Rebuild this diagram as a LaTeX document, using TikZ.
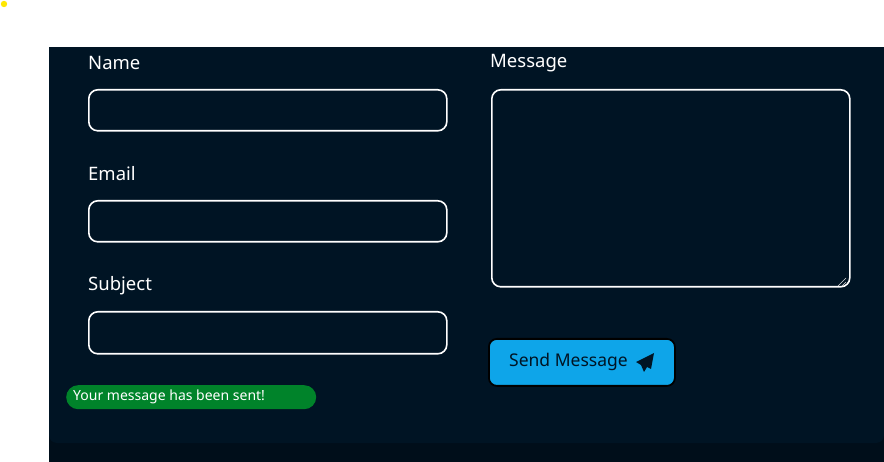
\documentclass[tikz,border=0pt]{standalone}
\usepackage{fontspec}
\setmainfont{Noto Sans}
\definecolor{card}{HTML}{001424}
\definecolor{deep}{HTML}{000E1A}
\definecolor{okgreen}{HTML}{00832A}
\definecolor{sky}{HTML}{0EA5E9}
\begin{document}
\begin{tikzpicture}[x=1pt,y=-1pt,
  field/.style={draw=white,line width=1.6pt,rounded corners=9pt,fill=card},
  lbl/.style={text=white,font=\fontsize{18.5}{20}\selectfont,anchor=west,inner sep=0pt}]
\useasboundingbox (0,0) rectangle (884,462);
\fill[white] (0,0) rectangle (884,462);
\fill[yellow!90!orange] (4,4) circle (3.2);
\fill[deep] (49,47) rectangle (884,462);
\fill[card,rounded corners=8pt] (49,30) rectangle (884,443);
\fill[white] (49,29) rectangle (884,47);
\node[lbl] (ln) at (88,63) {Name};
\node[field,minimum width=358pt,minimum height=41pt,anchor=north west] (fn) at (88,89) {};
\node[lbl] (le) at (88,174) {Email};
\node[field,minimum width=358pt,minimum height=41pt,anchor=north west] (fe) at (88,200) {};
\node[lbl] (ls) at (88,286) {Subject};
\node[field,minimum width=358pt,minimum height=42pt,anchor=north west] (fs) at (88,311) {};
\node[lbl] (lm) at (490,63) {Message};
\node[field,minimum width=358pt,minimum height=197pt,anchor=north west] (fm) at (491,89) {};
\draw[white!70!gray,line width=0.6pt] (846,278)--(838,286) (846,282)--(842,286);
\node[draw=black,line width=1.8pt,fill=sky,rounded corners=8pt,minimum width=186pt,minimum height=47pt,anchor=north west] (btn) at (488,338) {};
\node[text=card,font=\fontsize{17.5}{19}\selectfont,anchor=west,inner sep=0pt] (bt) at (509,362) {Send Message};
\fill[card] (654,353) -- (636,362) -- (641,365) -- (644,372) -- (647,367) -- (651,369) -- cycle;
\node[fill=okgreen,rounded corners=12pt,minimum width=250pt,minimum height=24pt,anchor=north west] (ok) at (66,385) {};
\node[text=white,font=\fontsize{14}{15}\selectfont,anchor=west,inner sep=0pt] (okt) at (73,397) {Your message has been sent!};
\end{tikzpicture}
\end{document}
